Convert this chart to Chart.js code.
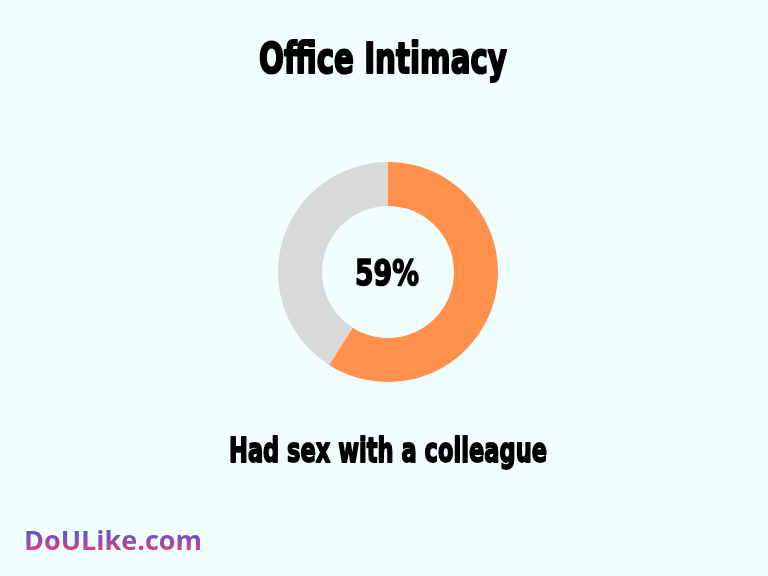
<!DOCTYPE html>
<html>
<head>
<meta charset="utf-8">
<script src="https://cdn.jsdelivr.net/npm/chart.js@4/dist/chart.umd.min.js"></script>
<style>
  html, body { margin: 0; padding: 0; background: #F0FFFE; }
  #wrap { width: 768px; height: 576px; position: relative; }
</style>
</head>
<body>
<div id="wrap"><canvas id="c" width="768" height="576"></canvas></div>
<script>
const titleText = "Office Intimacy";
const categories = ["Had sex with a colleague", "Did not"];
const values = [59, 41];
const centerLabel = "59%";
const caption = "Had sex with a colleague";
const brand = "DoULike.com";
const sliceColors = ["#FF914D", "#D9D9D9"];

function drawCondensed(ctx, text, cx, baselineY, fontPx, targetW, color, weightStroke) {
  ctx.save();
  ctx.font = "bold " + fontPx + "px 'DejaVu Sans'";
  const w = ctx.measureText(text).width;
  const sx = targetW / w;
  ctx.translate(cx, baselineY);
  ctx.scale(sx, 1);
  ctx.textAlign = "center";
  ctx.textBaseline = "alphabetic";
  ctx.fillStyle = color;
  ctx.fillText(text, 0, 0);
  if (weightStroke) {
    ctx.strokeStyle = color;
    ctx.lineWidth = weightStroke;
    ctx.lineJoin = "round";
    ctx.strokeText(text, 0, 0);
  }
  ctx.restore();
}

const textPlugin = {
  id: "texts",
  afterDraw(chart) {
    const ctx = chart.ctx;
    const meta = chart.getDatasetMeta(0).data[0];
    const cx = meta.x, cy = meta.y;
    drawCondensed(ctx, titleText, 383, 73, 43, 248, "#000", 2.2);
    drawCondensed(ctx, centerLabel, cx - 1, cy + 13, 36, 64, "#000", 1.6);
    drawCondensed(ctx, caption, 388, 462, 33, 318, "#000", 1.8);
    // brand logo
    ctx.save();
    ctx.font = "bold 27px 'Open Sans'";
    ctx.textAlign = "left";
    ctx.textBaseline = "alphabetic";
    const bw = ctx.measureText(brand).width;
    ctx.translate(24, 550);
    ctx.scale(178 / bw, 1);
    const g = ctx.createLinearGradient(0, -21, 0, 1);
    g.addColorStop(0, "#4A5CD0");
    g.addColorStop(1, "#D93C8C");
    ctx.fillStyle = g;
    ctx.fillText(brand, 0, 0);
    ctx.restore();
  }
};

new Chart(document.getElementById("c"), {
  type: "doughnut",
  data: {
    labels: categories,
    datasets: [{
      data: values,
      backgroundColor: sliceColors,
      borderWidth: 0,
      hoverOffset: 0
    }]
  },
  options: {
    responsive: false,
    animation: false,
    cutout: "60%",
    layout: { padding: { left: 278, right: 270, top: 162, bottom: 194 } },
    plugins: { legend: { display: false }, tooltip: { enabled: false }, title: { display: false } }
  },
  plugins: [textPlugin]
});
</script>
</body>
</html>
